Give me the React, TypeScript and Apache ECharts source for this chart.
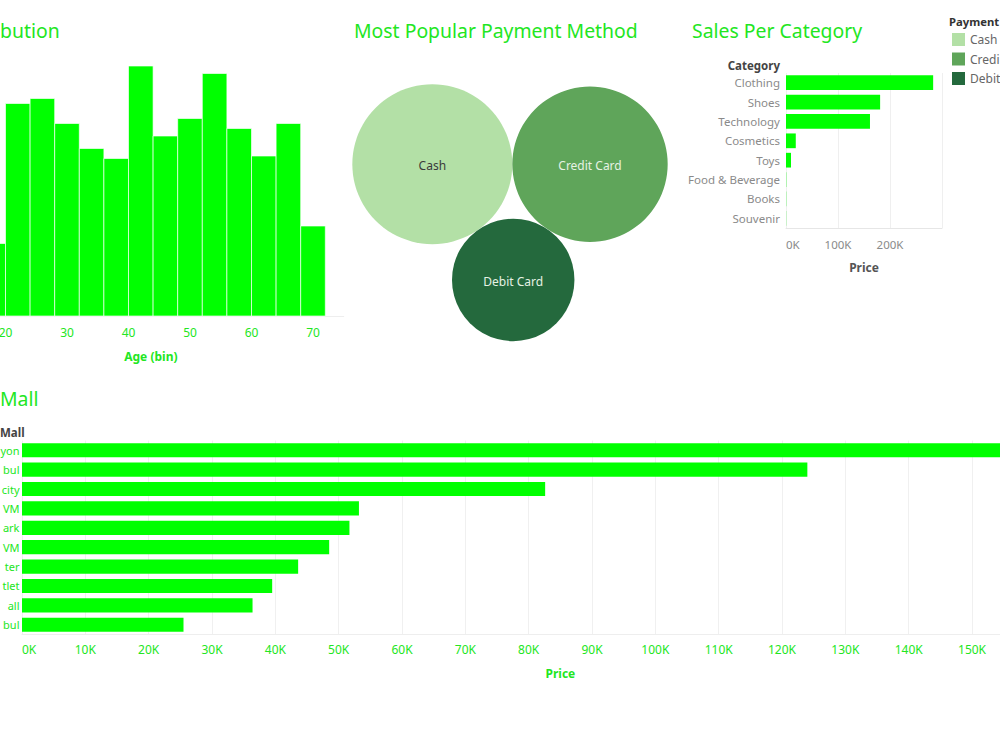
import React, { useEffect, useRef } from "react";
import * as echarts from "echarts";

// ---------- data ----------
const ageBinStarts = [16, 20, 24, 28, 32, 36, 40, 44, 48, 52, 56, 60, 64, 68];
const ageBinWidth = 4;
const ageCounts = [29, 85, 87, 77, 67, 63, 100, 72, 79, 97, 75, 64, 77, 36];

const paymentMethods = ["Cash", "Credit Card", "Debit Card"];
const paymentCounts = [403, 380, 236];
// what the cropped legend shows of each name
const paymentLegendShown = ["Cash", "Credi", "Debit"];

const categories = ["Clothing", "Shoes", "Technology", "Cosmetics", "Toys", "Food & Beverage", "Books", "Souvenir"];
const categorySales = [283000, 181000, 161500, 18800, 9600, 500, 400, 300];

const malls = [
  "Kanyon",
  "Mall of Istanbul",
  "Metrocity",
  "Metropol AVM",
  "Istinye Park",
  "Cevahir AVM",
  "Zorlu Center",
  "Viaport Outlet",
  "Emaar Square Mall",
  "Forum Istanbul",
];
// what the cropped view shows of each mall name
const mallLabelShown = ["yon", "bul", "city", "VM", "ark", "VM", "ter", "tlet", "all", "bul"];
const mallSales = [161000, 124000, 82600, 53200, 51700, 48500, 43600, 39500, 36400, 25500];

// ---------- styles ----------
const FONT = "'Noto Sans', 'Open Sans', sans-serif";
const LIME = "#00ff00";
const TEXT_GREEN = "#22e622";
const paymentColors = ["#b3e0a6", "#5fa55a", "#24693d"];
const paymentLabelColors = ["#3a3a3a", "#e6f2e4", "#e6f2e4"];

// packed-bubble layout (three tangent circles)
function packBubbles(values: number[], scale: number, cx: number, cy: number) {
  const r = values.map((v) => scale * Math.sqrt(v));
  const d = r[0] + r[1];
  const dA = r[0] + r[2];
  const dB = r[1] + r[2];
  const xC = (dA * dA - dB * dB + d * d) / (2 * d);
  const yC = Math.sqrt(Math.max(0, dA * dA - xC * xC));
  const pts = [
    [0, 0],
    [d, 0],
    [xC, yC],
  ];
  const minX = Math.min(...pts.map((p, i) => p[0] - r[i]));
  const maxX = Math.max(...pts.map((p, i) => p[0] + r[i]));
  const minY = Math.min(...pts.map((p, i) => p[1] - r[i]));
  const maxY = Math.max(...pts.map((p, i) => p[1] + r[i]));
  const ox = cx - (minX + maxX) / 2;
  const oy = cy - (minY + maxY) / 2;
  return pts.map((p, i) => ({ x: p[0] + ox, y: p[1] + oy, r: r[i] }));
}

const kFmt = (v: number) => `${Math.round(v / 1000)}K`;

export default function App() {
  const ref = useRef<HTMLDivElement>(null);

  useEffect(() => {
    if (!ref.current) return;
    const chart = echarts.init(ref.current, undefined, { renderer: "svg" });

    const bubbles = packBubbles(paymentCounts, 3.985, 510, 212.7);
    const titleStyle = { color: TEXT_GREEN, fontSize: 19.4, fontWeight: "normal", fontFamily: FONT };

    const option: any = {
      animation: false,
      backgroundColor: "#ffffff",
      textStyle: { fontFamily: FONT },
      title: [
        { text: "bution", left: 0, top: 21, padding: 0, textStyle: titleStyle },
        { text: "Most Popular Payment Method", left: 354, top: 21, padding: 0, textStyle: titleStyle },
        { text: "Sales Per Category", left: 692, top: 21, padding: 0, textStyle: titleStyle },
        { text: "Mall", left: 0, top: 389, padding: 0, textStyle: titleStyle },
        {
          text: "Payment",
          left: 949,
          top: 16,
          padding: 0,
          textStyle: { color: "#333", fontSize: 11.3, fontWeight: "bold", fontFamily: FONT },
        },
      ],
      legend: {
        data: paymentMethods,
        orient: "vertical",
        left: 952,
        top: 33,
        padding: 0,
        itemWidth: 13,
        itemHeight: 13,
        itemGap: 6.5,
        icon: "rect",
        selectedMode: false,
        formatter: (name: string) => paymentLegendShown[paymentMethods.indexOf(name)],
        textStyle: { color: "#666", fontSize: 12, fontFamily: FONT },
      },
      graphic: [
        {
          type: "text",
          style: {
            text: "Category",
            x: 780,
            y: 65,
            align: "right",
            verticalAlign: "middle",
            fill: "#444",
            fontSize: 11.5,
            fontWeight: "bold",
            fontFamily: FONT,
          },
        },
        {
          type: "text",
          style: {
            text: "Mall",
            x: 0,
            y: 432,
            align: "left",
            verticalAlign: "middle",
            fill: "#444",
            fontSize: 11.5,
            fontWeight: "bold",
            fontFamily: FONT,
          },
        },
      ],
      grid: [
        { left: -56, top: 16, width: 399.75, height: 300, outerBoundsMode: "none" },
        { left: 0, top: 0, width: 1000, height: 750, outerBoundsMode: "none" },
        { left: 786, top: 73, width: 156, height: 155, outerBoundsMode: "none" },
        { left: 22, top: 440.6, width: 1076.7, height: 193.8, outerBoundsMode: "none" },
      ],
      xAxis: [
        {
          gridIndex: 0,
          type: "value",
          min: 10,
          max: 75,
          interval: 10,
          axisLine: { show: true, lineStyle: { color: "#eeeeee" } },
          axisTick: { show: false },
          splitLine: { show: false },
          axisLabel: {
            color: TEXT_GREEN,
            fontSize: 12,
            margin: 10,
            showMinLabel: false,
            showMaxLabel: false,
            fontFamily: FONT,
          },
          name: "Age (bin)",
          nameLocation: "middle",
          nameGap: 34,
          nameTextStyle: {
            color: TEXT_GREEN,
            fontSize: 12,
            fontWeight: "bold",
            fontFamily: FONT,
            padding: [0, 0, 0, 14],
          },
        },
        { gridIndex: 1, type: "value", min: 0, max: 1000, show: false },
        {
          gridIndex: 2,
          type: "value",
          min: 0,
          max: 300000,
          interval: 100000,
          axisLine: { show: true, lineStyle: { color: "#e6e6e6" } },
          axisTick: { show: false },
          splitLine: { show: true, lineStyle: { color: "#efefef" } },
          axisLabel: {
            color: "#8a8a8a",
            fontSize: 11.5,
            margin: 10,
            formatter: kFmt,
            showMaxLabel: false,
            alignMinLabel: "left",
            fontFamily: FONT,
          },
          name: "Price",
          nameLocation: "middle",
          nameGap: 33,
          nameTextStyle: { color: "#555", fontSize: 12, fontWeight: "bold", fontFamily: FONT },
        },
        {
          gridIndex: 3,
          type: "value",
          min: 0,
          max: 170000,
          interval: 10000,
          axisLine: { show: true, lineStyle: { color: "#eeeeee" } },
          axisTick: { show: false },
          splitLine: { show: true, lineStyle: { color: "#f0f0f0" } },
          axisLabel: {
            color: TEXT_GREEN,
            fontSize: 12,
            margin: 9,
            // labels beyond 150K lie outside the visible frame
            formatter: (v: number) => (v > 150000 ? "" : kFmt(v)),
            alignMinLabel: "left",
            fontFamily: FONT,
          },
          name: "Price",
          nameLocation: "middle",
          nameGap: 33,
          nameTextStyle: { color: TEXT_GREEN, fontSize: 12, fontWeight: "bold", fontFamily: FONT },
        },
      ],
      yAxis: [
        { gridIndex: 0, type: "value", min: 0, max: 120, show: false },
        { gridIndex: 1, type: "value", min: 0, max: 750, inverse: true, show: false },
        {
          gridIndex: 2,
          type: "category",
          data: categories,
          inverse: true,
          axisLine: { show: false },
          axisTick: { show: false },
          axisLabel: { color: "#8a8a8a", fontSize: 11.5, margin: 6, fontFamily: FONT },
        },
        {
          gridIndex: 3,
          type: "category",
          data: malls,
          inverse: true,
          axisLine: { show: false },
          axisTick: { show: false },
          axisLabel: {
            color: TEXT_GREEN,
            fontSize: 11,
            margin: 2.5,
            fontFamily: FONT,
            formatter: (name: string) => mallLabelShown[malls.indexOf(name)],
          },
        },
      ],
      series: [
        {
          type: "custom",
          name: "Age",
          xAxisIndex: 0,
          yAxisIndex: 0,
          data: ageBinStarts.map((s, i) => [s, ageCounts[i]]),
          encode: { x: 0, y: 1 },
          renderItem: (params: any, api: any) => {
            const s = api.value(0);
            const v = api.value(1);
            const p0 = api.coord([s, v]);
            const p1 = api.coord([s + ageBinWidth, 0]);
            return {
              type: "rect",
              shape: { x: p0[0], y: p0[1], width: p1[0] - p0[0], height: p1[1] - p0[1] },
              style: { fill: LIME, stroke: "rgba(255,255,255,0.65)", lineWidth: 1 },
            };
          },
        },
        ...paymentMethods.map((m, i) => ({
          type: "scatter",
          name: m,
          xAxisIndex: 1,
          yAxisIndex: 1,
          data: [[bubbles[i].x, bubbles[i].y]],
          symbol: "circle",
          symbolSize: bubbles[i].r * 2,
          itemStyle: { color: paymentColors[i], opacity: 1 },
          label: {
            show: true,
            position: "inside",
            formatter: m,
            color: paymentLabelColors[i],
            fontSize: 12,
            fontFamily: FONT,
            offset: [0, 1.5],
          },
          emphasis: { disabled: true },
        })),
        {
          type: "bar",
          name: "Category Sales",
          xAxisIndex: 2,
          yAxisIndex: 2,
          data: categorySales,
          barCategoryGap: "24%",
          itemStyle: { color: LIME },
        },
        {
          type: "bar",
          name: "Mall Sales",
          xAxisIndex: 3,
          yAxisIndex: 3,
          data: mallSales,
          barCategoryGap: "27%",
          itemStyle: { color: LIME },
        },
      ],
    };

    chart.setOption(option);
    return () => chart.dispose();
  }, []);

  return (
    <div style={{ position: "absolute", left: 0, top: 0, width: 1000, height: 750, overflow: "hidden" }}>
      <div ref={ref} style={{ width: 1000, height: 750 }} />
    </div>
  );
}
